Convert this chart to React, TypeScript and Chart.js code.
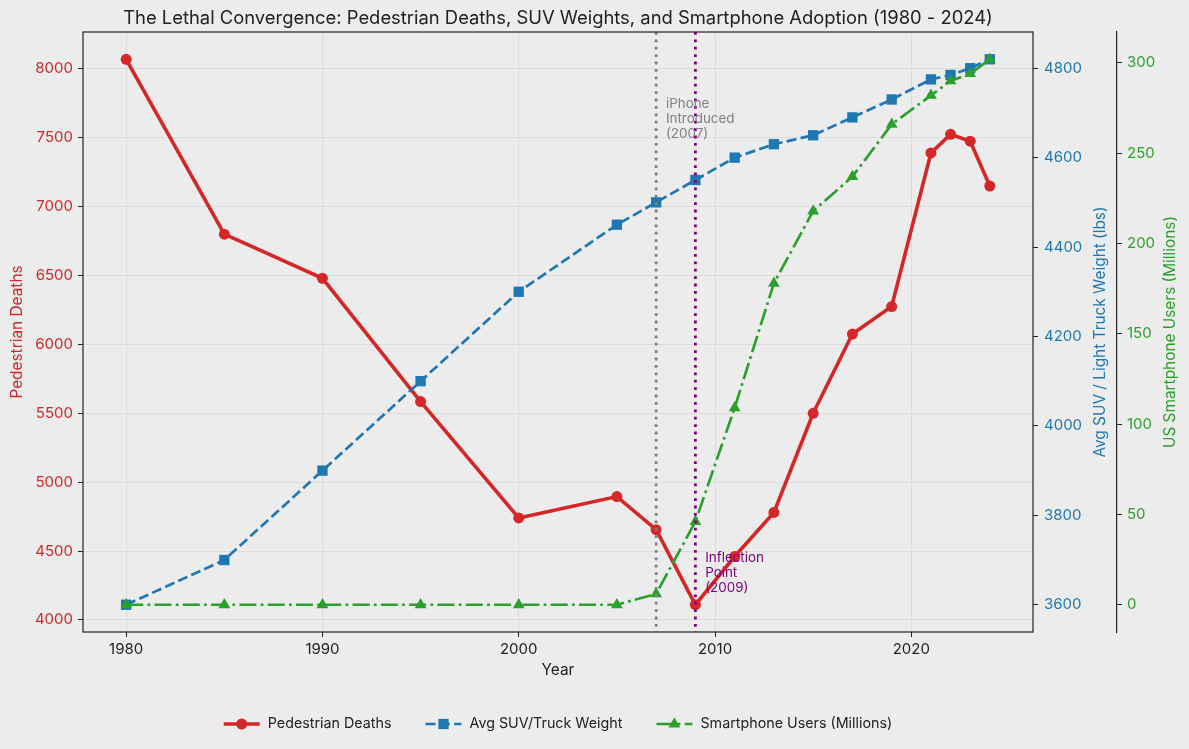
import { useEffect, useRef } from "react";
import { Chart, registerables } from "chart.js";

Chart.register(...registerables);

const FONT = "Inter, 'Noto Sans', sans-serif";

const years = [1980, 1985, 1990, 1995, 2000, 2005, 2007, 2009, 2011, 2013, 2015, 2017, 2019, 2021, 2022, 2023, 2024];
const pedestrianDeaths = [8070, 6800, 6480, 5585, 4740, 4895, 4655, 4110, 4460, 4780, 5500, 6075, 6275, 7390, 7525, 7475, 7150];
const suvWeights = [3600, 3700, 3900, 4100, 4300, 4450, 4500, 4550, 4600, 4630, 4650, 4690, 4730, 4775, 4785, 4800, 4820];
const smartphoneUsers = [0, 0, 0, 0, 0, 0, 6, 46, 109, 178, 218, 237, 266, 282, 290, 294, 302];

const seriesLabels = ["Pedestrian Deaths", "Avg SUV/Truck Weight", "Smartphone Users (Millions)"];
const axisTitles = ["Year", "Pedestrian Deaths", "Avg SUV / Light Truck Weight (lbs)", "US Smartphone Users (Millions)"];
const chartTitle = "The Lethal Convergence: Pedestrian Deaths, SUV Weights, and Smartphone Adoption (1980 - 2024)";

const xTicks = [1980, 1990, 2000, 2010, 2020];
const deathTicks = [4000, 4500, 5000, 5500, 6000, 6500, 7000, 7500, 8000];
const weightTicks = [3600, 3800, 4000, 4200, 4400, 4600, 4800];
const userTicks = [0, 50, 100, 150, 200, 250, 300];

const eventYears = [2007, 2009];
const eventLabels = [["iPhone", "Introduced", "(2007)"], ["Inflection", "Point", "(2009)"]];
const eventLabelX = [2007.5, 2009.5];
const eventLabelY = [7500, 4200];

const RED = "#d62728";
const BLUE = "#1f77b4";
const GREEN = "#2ca02c";
const GREY = "#808080";
const PURPLE = "#800080";
const eventColors = [GREY, PURPLE];
const BG = "#ececec";
const INK = "#222222";

function drawMarker(ctx: CanvasRenderingContext2D, style: string, x: number, y: number, r: number, color: string) {
  ctx.save();
  ctx.fillStyle = color;
  ctx.beginPath();
  if (style === "circle") {
    ctx.arc(x, y, r, 0, Math.PI * 2);
  } else if (style === "rect") {
    const s = Math.SQRT1_2 * r;
    ctx.rect(x - s, y - s, 2 * s, 2 * s);
  } else if (style === "triangle") {
    ctx.moveTo(x, y - r);
    ctx.lineTo(x + r * 0.866, y + r * 0.5);
    ctx.lineTo(x - r * 0.866, y + r * 0.5);
    ctx.closePath();
  }
  ctx.fill();
  ctx.restore();
}

const customPlugin = {
  id: "customDecor",
  beforeDraw(chart: any) {
    const ctx = chart.ctx;
    ctx.save();
    ctx.fillStyle = BG;
    ctx.fillRect(0, 0, chart.width, chart.height);
    ctx.restore();
  },
  afterDatasetsDraw(chart: any) {
    const ctx: CanvasRenderingContext2D = chart.ctx;
    const { x, y } = chart.scales;
    const area = chart.chartArea;
    ctx.save();
    eventYears.forEach((yr, i) => {
      const px = x.getPixelForValue(yr);
      ctx.strokeStyle = eventColors[i];
      ctx.lineWidth = 2.8;
      ctx.setLineDash([2.8, 4.6]);
      ctx.beginPath();
      ctx.moveTo(px, area.top);
      ctx.lineTo(px, area.bottom);
      ctx.stroke();
    });
    ctx.setLineDash([]);
    ctx.font = `13.4px ${FONT}`;
    ctx.textAlign = "left";
    ctx.textBaseline = "middle";
    eventLabels.forEach((lines, i) => {
      const px = x.getPixelForValue(eventLabelX[i]);
      const py = y.getPixelForValue(eventLabelY[i]);
      ctx.fillStyle = eventColors[i];
      const n = lines.length;
      lines.forEach((t, j) => {
        ctx.fillText(t, px, py - 4 - (n - 1 - j) * 15);
      });
    });
    // frame
    ctx.strokeStyle = INK;
    ctx.lineWidth = 1.2;
    ctx.strokeRect(area.left, area.top, area.right - area.left, area.bottom - area.top);
    ctx.restore();
  },
  afterDraw(chart: any) {
    const ctx: CanvasRenderingContext2D = chart.ctx;
    const area = chart.chartArea;
    const { y1, y2 } = chart.scales;
    const midX = (area.left + area.right) / 2;
    const midY = (area.top + area.bottom) / 2;
    ctx.save();
    // title
    ctx.fillStyle = INK;
    ctx.font = `18.4px ${FONT}`;
    ctx.textAlign = "center";
    ctx.textBaseline = "middle";
    ctx.fillText(chartTitle, midX, 18);
    // right axis titles
    ctx.font = `15.4px ${FONT}`;
    const rightTitles = [
      { text: axisTitles[2], color: BLUE, x: y1.left + 67 },
      { text: axisTitles[3], color: GREEN, x: y2.left + 53 },
    ];
    rightTitles.forEach((t) => {
      ctx.save();
      ctx.translate(t.x, midY);
      ctx.rotate(-Math.PI / 2);
      ctx.fillStyle = t.color;
      ctx.fillText(t.text, 0, 0);
      ctx.restore();
    });
    // legend
    ctx.font = `14.3px ${FONT}`;
    const lineLen = 36;
    const textGap = 8;
    const itemGap = 34;
    const items = chart.data.datasets.map((ds: any) => ({
      ds,
      w: lineLen + textGap + ctx.measureText(ds.label).width,
    }));
    const total = items.reduce((s: number, it: any) => s + it.w, 0) + itemGap * (items.length - 1);
    let lx = midX - total / 2;
    const ly = 724;
    items.forEach((it: any) => {
      const ds = it.ds;
      ctx.strokeStyle = ds.borderColor;
      ctx.lineWidth = ds.borderWidth;
      ctx.setLineDash(ds.borderDash || []);
      ctx.beginPath();
      ctx.moveTo(lx, ly);
      ctx.lineTo(lx + lineLen, ly);
      ctx.stroke();
      ctx.setLineDash([]);
      drawMarker(ctx, ds.pointStyle, lx + lineLen / 2, ly, ds.pointRadius, ds.borderColor);
      ctx.fillStyle = INK;
      ctx.textAlign = "left";
      ctx.fillText(ds.label, lx + lineLen + textGap, ly);
      lx += it.w + itemGap;
    });
    ctx.restore();
  },
};

function toPoints(vals: number[]) {
  return years.map((yr, i) => ({ x: yr, y: vals[i] }));
}

export default function App() {
  const ref = useRef<HTMLCanvasElement | null>(null);
  useEffect(() => {
    if (!ref.current) return;
    const tickFont = { family: FONT, size: 15 };
    const titleFont = { family: FONT, size: 15.4 };
    const chart = new Chart(ref.current, {
      type: "line",
      data: {
        datasets: [
          {
            label: seriesLabels[0],
            data: toPoints(pedestrianDeaths),
            yAxisID: "y",
            borderColor: RED,
            backgroundColor: RED,
            borderWidth: 3.6,
            pointStyle: "circle",
            pointRadius: 5.5,
            pointBorderWidth: 0,
            pointBackgroundColor: RED,
            order: 3,
          },
          {
            label: seriesLabels[1],
            data: toPoints(suvWeights),
            yAxisID: "y1",
            borderColor: BLUE,
            backgroundColor: BLUE,
            borderWidth: 2.7,
            borderDash: [10, 4.3],
            pointStyle: "rect",
            pointRadius: 7.3,
            pointBorderWidth: 0,
            pointBackgroundColor: BLUE,
            order: 2,
          },
          {
            label: seriesLabels[2],
            data: toPoints(smartphoneUsers),
            yAxisID: "y2",
            borderColor: GREEN,
            backgroundColor: GREEN,
            borderWidth: 2.7,
            borderDash: [17, 4.3, 2.7, 4.3],
            pointStyle: "triangle",
            pointRadius: 6.8,
            pointBorderWidth: 0,
            pointBackgroundColor: GREEN,
            order: 1,
          },
        ] as any,
      },
      options: {
        animation: false,
        responsive: false,
        maintainAspectRatio: false,
        devicePixelRatio: 1,
        layout: { padding: { top: 32, bottom: 65, left: 0, right: 0 } },
        plugins: {
          legend: { display: false },
          title: { display: false },
          tooltip: { enabled: false },
        },
        elements: { line: { tension: 0 } },
        scales: {
          x: {
            type: "linear",
            min: 1977.8,
            max: 2026.2,
            afterBuildTicks: (s: any) => {
              s.ticks = xTicks.map((v) => ({ value: v }));
            },
            afterFit: (s: any) => {
              s.height = 52;
            },
            ticks: { font: tickFont, color: INK, padding: 3, callback: (v: any) => String(v) },
            grid: { color: "#d8d8d8", lineWidth: 0.8, tickColor: INK, tickLength: 5, tickWidth: 1 },
            border: { display: false },
            title: { display: true, text: axisTitles[0], color: INK, font: titleFont, padding: { top: 2, bottom: 4 } },
          },
          y: {
            type: "linear",
            position: "left",
            min: 3912,
            max: 8268,
            afterBuildTicks: (s: any) => {
              s.ticks = deathTicks.map((v) => ({ value: v }));
            },
            afterFit: (s: any) => {
              s.width = 83;
            },
            ticks: { font: tickFont, color: RED, padding: 5, callback: (v: any) => String(v) },
            grid: { color: "#d8d8d8", lineWidth: 0.8, tickColor: INK, tickLength: 5, tickWidth: 1 },
            border: { display: false },
            title: { display: true, text: axisTitles[1], color: RED, font: titleFont, padding: { top: 8, bottom: 4 } },
          },
          y1: {
            type: "linear",
            position: "right",
            min: 3539,
            max: 4881,
            afterBuildTicks: (s: any) => {
              s.ticks = weightTicks.map((v) => ({ value: v }));
            },
            afterFit: (s: any) => {
              s.width = 84;
            },
            ticks: { font: tickFont, color: BLUE, padding: 6, callback: (v: any) => String(v) },
            grid: { drawOnChartArea: false, tickColor: INK, tickLength: 5, tickWidth: 1 },
            border: { display: false },
          },
          y2: {
            type: "linear",
            position: "right",
            min: -15.1,
            max: 317.1,
            afterBuildTicks: (s: any) => {
              s.ticks = userTicks.map((v) => ({ value: v }));
            },
            afterFit: (s: any) => {
              s.width = 72;
            },
            ticks: { font: tickFont, color: GREEN, padding: 5, callback: (v: any) => String(v) },
            grid: { drawOnChartArea: false, tickColor: INK, tickLength: 5, tickWidth: 1 },
            border: { display: true, color: INK, width: 1.2 },
          },
        },
      } as any,
      plugins: [customPlugin],
    });
    return () => chart.destroy();
  }, []);
  return (
    <div style={{ position: "fixed", left: 0, top: 0, width: 1189, height: 749, background: BG }}>
      <canvas ref={ref} width={1189} height={749} style={{ width: 1189, height: 749, display: "block" }} />
    </div>
  );
}
